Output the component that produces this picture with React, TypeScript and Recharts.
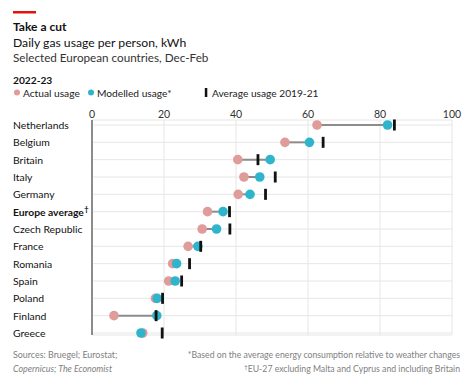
import React from "react";
import {
  ComposedChart,
  Line,
  XAxis,
  YAxis,
  CartesianGrid,
  ReferenceLine,
} from "recharts";

const countries = [
  "Netherlands",
  "Belgium",
  "Britain",
  "Italy",
  "Germany",
  "Europe average",
  "Czech Republic",
  "France",
  "Romania",
  "Spain",
  "Poland",
  "Finland",
  "Greece",
];
const actualUsage = [62.5, 53.6, 40.5, 42.2, 40.6, 32.1, 30.6, 26.7, 22.4, 21.3, 17.6, 6.1, 14.1];
const modelledUsage = [82.1, 60.4, 49.5, 46.6, 43.9, 36.4, 34.6, 29.4, 23.5, 23.1, 18.1, 18.0, 13.6];
const averageUsage = [84.0, 64.2, 46.1, 50.9, 48.2, 38.2, 38.3, 30.2, 27.1, 24.9, 19.6, 17.8, 19.5];
const xTicks = [0, 20, 40, 60, 80, 100];

const data = countries.map((name, i) => ({
  name,
  actual: actualUsage[i],
  modelled: modelledUsage[i],
  average: averageUsage[i],
}));

const PINK = "#e09b9b";
const BLUE = "#2fb5cb";
const FONT = "Lato, 'Noto Sans', sans-serif";

const YTick = (props: any) => {
  const { y, payload } = props;
  const v = payload.value as string;
  if (v === "Europe average") {
    return (
      <text x={13} y={y + 4} fontSize={10.3} fill="#111" fontFamily={FONT} fontWeight="bold">
        <tspan>Europe average</tspan><tspan dx={0.5} dy={-4} fontSize={7.5}>†</tspan>
      </text>
    );
  }
  return (
    <text x={13} y={y + 4} fontSize={10.4} fill="#111" fontFamily={FONT}>
      {v}
    </text>
  );
};

const makeDot = (color: string) => (props: any) => {
  const { cx, cy, index } = props;
  if (cx == null || cy == null) return <g key={`e-${color}-${index}`} />;
  return <circle key={`d-${color}-${index}`} cx={cx} cy={cy} r={4.8} fill={color} />;
};

const AvgMark = (props: any) => {
  const { cx, cy, index } = props;
  if (cx == null || cy == null) return <g key={`ea-${index}`} />;
  return <rect key={`a-${index}`} x={cx - 1.4} y={cy - 5.5} width={2.8} height={11} fill="#111" />;
};

export default function App() {
  return (
    <div
      style={{
        position: "absolute",
        left: 0,
        top: 0,
        width: 474,
        height: 387,
        background: "#fff",
        overflow: "hidden",
      }}
    >
      <svg
        width={474}
        height={387}
        style={{ position: "absolute", left: 0, top: 0, pointerEvents: "none" }}
        fontFamily={FONT}
      >
        <rect x={13} y={11} width={23} height={2.5} fill="#e3120b" />
        <text x={13} y={30.5} fontSize={12} fontWeight="bold" fill="#111">
          Take a cut
        </text>
        <text x={13} y={47} fontSize={12.2} fill="#111">
          Daily gas usage per person, kWh
        </text>
        <text x={13} y={62} fontSize={11.7} fill="#333">
          Selected European countries, Dec-Feb
        </text>
        <text x={13} y={84} fontSize={10.2} fontWeight="bold" fill="#111">
          2022-23
        </text>
        <circle cx={17} cy={92.5} r={3} fill={PINK} />
        <text x={23} y={96.5} fontSize={10.2} fill="#222">
          Actual usage
        </text>
        <circle cx={91} cy={92.5} r={3} fill={BLUE} />
        <text x={97} y={96.5} fontSize={10.2} fill="#222">
          Modelled usage*
        </text>
        <rect x={204.8} y={88} width={2.5} height={9} fill="#111" />
        <text x={212} y={96.5} fontSize={10.2} fill="#222">
          Average usage 2019-21
        </text>
        <text x={13} y={358} fontSize={8.9} fill="#808080">
          Sources: Bruegel; Eurostat;
        </text>
        <text x={13} y={372} fontSize={8.9} fill="#808080" fontStyle="italic">
          Copernicus; The Economist
        </text>
        <text x={460} y={358} fontSize={8.7} fill="#808080" textAnchor="end">
          *Based on the average energy consumption relative to weather changes
        </text>
        <text x={460} y={372} fontSize={8.7} fill="#808080" textAnchor="end">
          <tspan fontSize={6.5} dy={-3}>†</tspan><tspan dy={3}>EU-27 excluding Malta and Cyprus and including Britain</tspan>
        </text>
      </svg>
      <div style={{ position: "absolute", left: 0, top: 0 }}>
        <ComposedChart
          width={474}
          height={387}
          data={data}
          layout="vertical"
          margin={{ top: 100, right: 22, bottom: 52, left: 0 }}
        >
          <CartesianGrid stroke="#e6e6e6" strokeWidth={1} />
          <XAxis
            type="number"
            orientation="top"
            domain={[0, 100]}
            ticks={xTicks}
            axisLine={false}
            tickLine={false}
            tickSize={0}
            tickMargin={2}
            height={20}
            tick={{ fill: "#333", fontSize: 10.5, fontFamily: FONT }}
            interval={0}
          />
          <YAxis
            type="category"
            dataKey="name"
            scale="point"
            width={92}
            padding={{ top: 5, bottom: 2 }}
            axisLine={false}
            tickLine={false}
            tick={<YTick />}
            interval={0}
          />
          <ReferenceLine x={0} stroke="#8c8c8c" strokeWidth={2} />
          {data.map((d) => (
            <ReferenceLine
              key={`seg-${d.name}`}
              segment={[
                { x: d.actual, y: d.name },
                { x: d.modelled, y: d.name },
              ]}
              stroke="#8c8c8c"
              strokeWidth={2}
            />
          ))}
          <Line
            dataKey="actual"
            stroke="none"
            dot={makeDot(PINK)}
            activeDot={false}
            isAnimationActive={false}
          />
          <Line
            dataKey="modelled"
            stroke="none"
            dot={makeDot(BLUE)}
            activeDot={false}
            isAnimationActive={false}
          />
          <Line
            dataKey="average"
            stroke="none"
            dot={AvgMark}
            activeDot={false}
            isAnimationActive={false}
          />
        </ComposedChart>
      </div>
    </div>
  );
}
